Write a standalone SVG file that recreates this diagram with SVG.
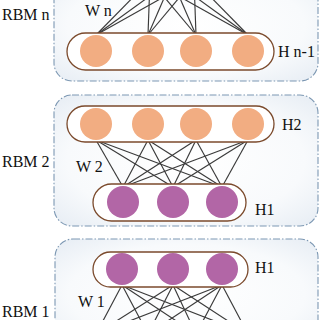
<svg xmlns="http://www.w3.org/2000/svg" width="320" height="320" viewBox="0 0 320 320">
<defs>
<radialGradient id="bg" cx="0.5" cy="0.5" r="0.75">
<stop offset="0" stop-color="#ffffff"/>
<stop offset="0.6" stop-color="#f8fafc"/>
<stop offset="1" stop-color="#e3eaf2"/>
</radialGradient>
<style>
.box{fill:url(#bg);stroke:#7d98b3;stroke-width:1.1;stroke-dasharray:7 2 1.5 2}
.cap{fill:#ffffff;stroke:#7b4a2c;stroke-width:1.3}
.o{fill:#f2ad82}
.p{fill:#b266a6}
text{font-family:'Liberation Serif','Times New Roman',serif;font-size:16px;fill:#111}
.c line{stroke:#3a3a3a;stroke-width:1.15}
</style>
</defs>
<rect width="320" height="320" fill="#ffffff"/>
<g id="rbm-n">
<rect class="box" x="54" y="-30" width="264" height="111" rx="18"/>
<text x="2" y="20" font-family="Liberation Serif, serif">RBM n</text>
<text x="85" y="16" font-family="Liberation Serif, serif">W n</text>
</g>
<g id="rbm-2">
<rect class="box" x="54" y="95" width="264" height="131" rx="18"/>
<text x="2" y="167" font-family="Liberation Serif, serif">RBM 2</text>
<text x="76" y="172" font-family="Liberation Serif, serif">W 2</text>
</g>
<g id="rbm-1">
<rect class="box" x="55" y="239" width="263" height="110" rx="18"/>
<text x="2" y="317" font-family="Liberation Serif, serif">RBM 1</text>
<text x="78" y="307" font-family="Liberation Serif, serif">W 1</text>
</g>
<g class="c" id="connectors">
<line x1="96" y1="35" x2="150" y2="-20"/><line x1="96" y1="35" x2="172" y2="-20"/><line x1="96" y1="35" x2="194" y2="-20"/>
<line x1="148" y1="35" x2="150" y2="-20"/><line x1="148" y1="35" x2="172" y2="-20"/><line x1="148" y1="35" x2="194" y2="-20"/>
<line x1="196" y1="35" x2="150" y2="-20"/><line x1="196" y1="35" x2="172" y2="-20"/><line x1="196" y1="35" x2="194" y2="-20"/>
<line x1="248" y1="35" x2="150" y2="-20"/><line x1="248" y1="35" x2="172" y2="-20"/><line x1="248" y1="35" x2="194" y2="-20"/>
<line x1="96" y1="140" x2="123" y2="187"/><line x1="96" y1="140" x2="173" y2="187"/><line x1="96" y1="140" x2="222" y2="187"/>
<line x1="148" y1="140" x2="123" y2="187"/><line x1="148" y1="140" x2="173" y2="187"/><line x1="148" y1="140" x2="222" y2="187"/>
<line x1="196" y1="140" x2="123" y2="187"/><line x1="196" y1="140" x2="173" y2="187"/><line x1="196" y1="140" x2="222" y2="187"/>
<line x1="248" y1="140" x2="123" y2="187"/><line x1="248" y1="140" x2="173" y2="187"/><line x1="248" y1="140" x2="222" y2="187"/>
<line x1="122" y1="285" x2="96" y2="334"/><line x1="122" y1="285" x2="148" y2="334"/><line x1="122" y1="285" x2="196" y2="334"/><line x1="122" y1="285" x2="248" y2="334"/>
<line x1="173" y1="285" x2="96" y2="334"/><line x1="173" y1="285" x2="148" y2="334"/><line x1="173" y1="285" x2="196" y2="334"/><line x1="173" y1="285" x2="248" y2="334"/>
<line x1="222" y1="285" x2="96" y2="334"/><line x1="222" y1="285" x2="148" y2="334"/><line x1="222" y1="285" x2="196" y2="334"/><line x1="222" y1="285" x2="248" y2="334"/>
</g>
<g id="layer-hn1">
<rect class="cap" x="67" y="33" width="207" height="37" rx="18.5"/>
<circle class="o" cx="96" cy="51" r="16"/><circle class="o" cx="148" cy="51" r="16"/><circle class="o" cx="196" cy="51" r="16"/><circle class="o" cx="248" cy="51" r="16"/>
<text x="278" y="57" font-family="Liberation Serif, serif">H n-1</text>
</g>
<g id="layer-h2">
<rect class="cap" x="67" y="106" width="207" height="36" rx="18"/>
<circle class="o" cx="96" cy="124" r="16"/><circle class="o" cx="148" cy="124" r="16"/><circle class="o" cx="196" cy="124" r="16"/><circle class="o" cx="248" cy="124" r="16"/>
<text x="282" y="130" font-family="Liberation Serif, serif">H2</text>
</g>
<g id="layer-h1-top">
<rect class="cap" x="93" y="184" width="153" height="37" rx="18.5"/>
<circle class="p" cx="123" cy="202" r="16"/><circle class="p" cx="173" cy="202" r="16"/><circle class="p" cx="222" cy="202" r="16"/>
<text x="255" y="215" font-family="Liberation Serif, serif">H1</text>
</g>
<g id="layer-h1-bottom">
<rect class="cap" x="93" y="252" width="155" height="35" rx="17.5"/>
<circle class="p" cx="122" cy="269" r="16"/><circle class="p" cx="173" cy="269" r="16"/><circle class="p" cx="222" cy="269" r="16"/>
<text x="255" y="273" font-family="Liberation Serif, serif">H1</text>
</g>
</svg>
